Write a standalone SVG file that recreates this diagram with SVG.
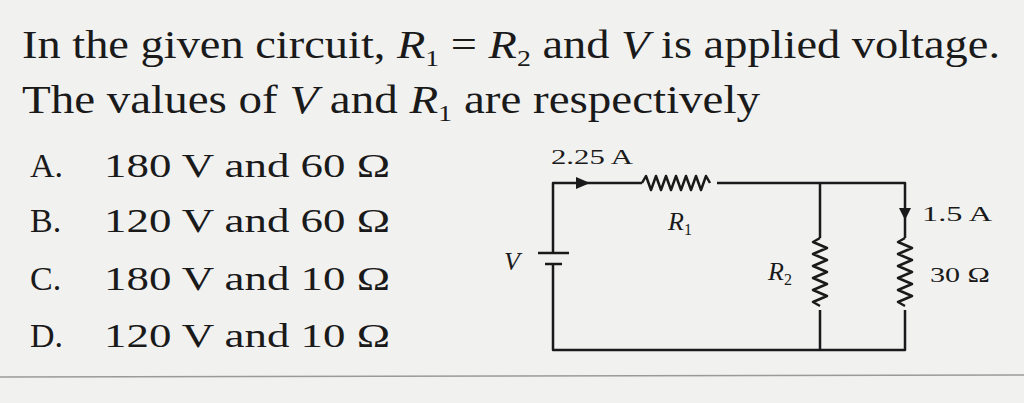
<svg xmlns="http://www.w3.org/2000/svg" width="1024" height="403" viewBox="0 0 1024 403">
<style>
.t{font-family:"Liberation Serif",serif;fill:#1a1a1a}
.q{font-size:40px}
.o{font-size:34px}
.s{font-size:20px}
.w{fill:none;stroke:#1a1a1a;stroke-width:2.5;stroke-linejoin:round}
</style>
<rect width="1024" height="403" fill="#f1f1f0"/>
<g id="text">
<text class="t q" x="22" y="58" textLength="978" lengthAdjust="spacingAndGlyphs">In the given circuit, <tspan font-style="italic">R</tspan><tspan font-size="24" dy="8">1</tspan><tspan dy="-8"> = </tspan><tspan font-style="italic">R</tspan><tspan font-size="24" dy="8">2</tspan><tspan dy="-8"> and </tspan><tspan font-style="italic">V</tspan> is applied voltage.</text>
<text class="t q" x="22" y="113" textLength="738" lengthAdjust="spacingAndGlyphs">The values of <tspan font-style="italic">V</tspan> and <tspan font-style="italic">R</tspan><tspan font-size="24" dy="8">1</tspan><tspan dy="-8"> are respectively</tspan></text>
<text class="t o" x="30" y="177">A.</text><text class="t o" x="104" y="177" textLength="286" lengthAdjust="spacingAndGlyphs">180 V and 60 Ω</text>
<text class="t o" x="30" y="232">B.</text><text class="t o" x="104" y="232" textLength="286" lengthAdjust="spacingAndGlyphs">120 V and 60 Ω</text>
<text class="t o" x="30" y="290">C.</text><text class="t o" x="104" y="290" textLength="286" lengthAdjust="spacingAndGlyphs">180 V and 10 Ω</text>
<text class="t o" x="30" y="347">D.</text><text class="t o" x="104" y="347" textLength="286" lengthAdjust="spacingAndGlyphs">120 V and 10 Ω</text>
</g>
<line x1="0" y1="377" x2="1024" y2="375" stroke="#9a9a9a" stroke-width="1.5"/>
<g id="connectors">
<path class="w" d="M642,183 H553 V253 M553,264 V350 H905 V310 M905,238 V183 H717 M820,183 V238 M820,310 V350"/>
<path class="w" d="M642,183 l4,-7 l5,14 l5,-14 l5,14 l5,-14 l5,14 l5,-14 l5,14 l5,-14 l5,14 l5,-14 l5,14 l5,-14 l4,7"/>
<path class="w" d="M820,238 l-7,4 l14,6 l-14,6 l14,6 l-14,6 l14,6 l-14,6 l14,6 l-14,6 l14,6 l-14,6 l7,4"/>
<path class="w" d="M905,238 l-7,4 l14,6 l-14,6 l14,6 l-14,6 l14,6 l-14,6 l14,6 l-14,6 l14,6 l-14,6 l7,4"/>
<line class="w" x1="538" y1="253" x2="569" y2="253"/>
<line class="w" x1="545" y1="264" x2="562" y2="264"/>
<polygon points="576,177 590,183 576,189" fill="#1a1a1a"/>
<polygon points="899,208 911,208 905,220" fill="#1a1a1a"/>
</g>
<g id="labels">
<text class="t s" x="551" y="164" textLength="82" lengthAdjust="spacingAndGlyphs">2.25 A</text>
<text class="t" x="668" y="230" font-style="italic" font-size="26">R<tspan font-size="16" dy="5" font-style="normal">1</tspan></text>
<text class="t" x="504" y="270" font-style="italic" font-size="26">V</text>
<text class="t" x="768" y="280" font-style="italic" font-size="26">R<tspan font-size="16" dy="5" font-style="normal">2</tspan></text>
<text class="t" x="922" y="221" font-size="22" textLength="70" lengthAdjust="spacingAndGlyphs">1.5 A</text>
<text class="t" x="930" y="282" font-size="22" textLength="60" lengthAdjust="spacingAndGlyphs">30 Ω</text>
</g>
</svg>
